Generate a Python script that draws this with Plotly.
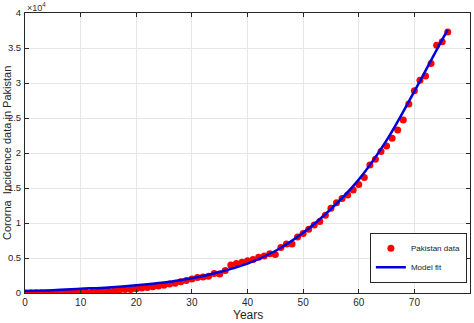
import plotly.graph_objects as go
import numpy as np

# Observed data (cases)
days = list(range(0, 77))
cases = [0, 0, 0, 0, 0, 0, 0, 0, 100, 100, 100, 100, 100, 200, 200, 300, 300,
         400, 500, 500, 600, 700, 800, 900, 1000, 1100, 1300, 1400, 1600, 1800, 2000,
         2200, 2300, 2400, 2800, 2700, 3200, 4000, 4200, 4400, 4600, 4800, 5100,
         5300, 5600, 5500, 6500, 7000, 7000, 8000, 8500, 9100,
         9700, 10200, 11100, 12100, 12900, 13500, 14000, 14700, 15500, 16500,
         18300, 19100, 20200, 21000, 22100, 23300, 24700, 27000, 28900, 30400,
         31000, 32800, 35400, 35900, 37300]

# Model fit curve
fit_days = [0, 5, 10, 15, 20, 25, 30, 35, 40, 45, 50, 55, 60, 65, 70, 75, 76]
fit_vals = [300, 400, 600, 800, 1100, 1500, 2100, 3000, 4200, 6000, 8600,
            12000, 16200, 21800, 28800, 36200, 37600]

x_ticks = [0, 10, 20, 30, 40, 50, 60, 70, 80]
y_ticks = [0, 0.5, 1, 1.5, 2, 2.5, 3, 3.5, 4]

scale = 1e4
fig = go.Figure()
fig.add_trace(go.Scatter(
    x=days, y=np.array(cases) / scale, mode="markers", name="Pakistan data",
    marker=dict(color="#ff0000", size=7, line=dict(width=0))))
fig.add_trace(go.Scatter(
    x=fit_days, y=np.array(fit_vals) / scale, mode="lines", name="Model fit",
    line=dict(color="#0000dd", width=2.5, shape="spline")))

axis_common = dict(showline=True, linecolor="#262626", linewidth=1, mirror="ticks",
                   ticks="inside", ticklen=4, tickcolor="#262626", automargin=False,
                   showgrid=True, gridcolor="#e6e6e6", gridwidth=1, zeroline=False)

fig.update_layout(
    width=474, height=323,
    margin=dict(l=25, r=4, t=13, b=30, autoexpand=False),
    paper_bgcolor="white", plot_bgcolor="white",
    xaxis=dict(range=[0, 80], tickvals=x_ticks, ticktext=[str(v) for v in x_ticks],
               tickfont=dict(family="Liberation Sans, Arial", size=10, color="#262626"),
               **axis_common),
    yaxis=dict(range=[0, 4], tickvals=y_ticks, ticktext=[f"{v:g}" for v in y_ticks],
               tickfont=dict(family="Liberation Sans, Arial", size=9.5, color="#262626"),
               ticklabelstandoff=1, **axis_common),
    showlegend=True,
    legend=dict(x=0.993, y=0.037, xanchor="right", yanchor="bottom",
                bgcolor="white", bordercolor="#262626", borderwidth=1,
                font=dict(family="Liberation Sans, Arial", size=8, color="#222222"),
                itemwidth=30),
    annotations=[
        dict(text="Years", x=0.5, y=0, xref="paper", yref="paper",
             xanchor="center", yanchor="top", yshift=-13, showarrow=False,
             font=dict(family="Liberation Sans, Arial", size=12, color="#262626")),
        dict(text="Cororna  Incidence data in Pakistan", x=0, y=0.5, xref="paper", yref="paper",
             xanchor="center", yanchor="middle", xshift=-18, textangle=-90, showarrow=False,
             font=dict(family="Liberation Sans, Arial", size=11, color="#262626")),
        dict(text="×10<sup>4</sup>", x=0, y=1, xref="paper", yref="paper",
             xanchor="left", yanchor="bottom", xshift=0, yshift=-2, showarrow=False,
             font=dict(family="Liberation Sans, Arial", size=9, color="#333333")),
    ],
)

fig.write_html("out.html", config={"displayModeBar": False},
               post_script="document.body.style.margin='0';document.body.style.overflow='hidden';")
